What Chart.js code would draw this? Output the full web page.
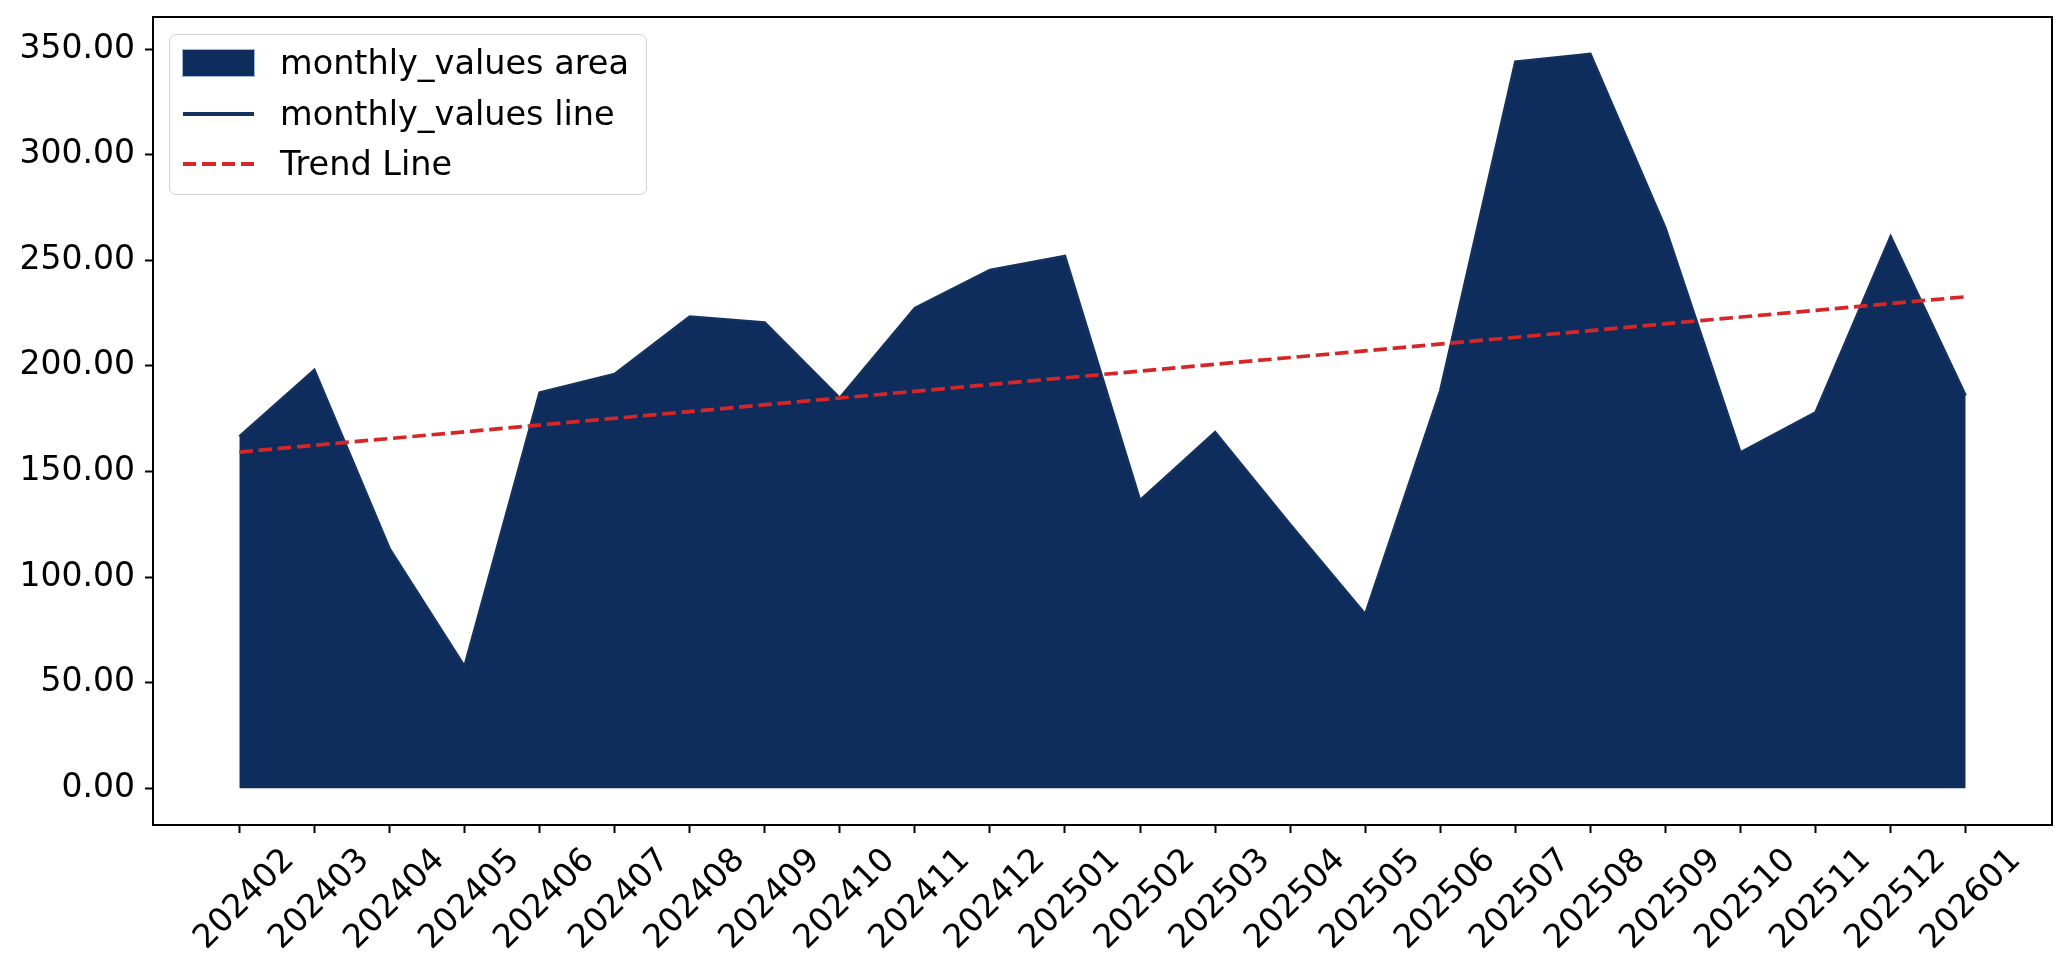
<!DOCTYPE html>
<html>
<head>
<meta charset="utf-8">
<script src="https://cdn.jsdelivr.net/npm/chart.js@4.4.1/dist/chart.umd.min.js"></script>
<style>
  html, body { margin: 0; padding: 0; background: #ffffff; }
  body { width: 2069px; height: 975px; position: relative; overflow: hidden; font-family: "DejaVu Sans", sans-serif; }
  #c { position: absolute; left: 0; top: 0; }
  #legend {
    position: absolute; left: 169px; top: 34px; width: 476px; height: 159px;
    border: 1.5px solid #d3d3d3; border-radius: 7px; background: rgba(255,255,255,0.8);
    box-sizing: content-box;
  }
  .row { position: absolute; left: 0; height: 40px; display: flex; align-items: center; }
  .sym { position: absolute; left: 13px; width: 71px; }
  .txt { position: absolute; left: 110px; font-size: 33.5px; line-height: 40px; white-space: nowrap; color: #000; }
</style>
</head>
<body>
<canvas id="c" width="2069" height="975"></canvas>
<div id="legend"></div>
<script>
// ---- data ----
const months = ['202402','202403','202404','202405','202406','202407','202408','202409','202410','202411','202412',
                '202501','202502','202503','202504','202505','202506','202507','202508','202509','202510','202511','202512',
                '202601'];
const monthlyValues = [166.6, 198.1, 113.6, 57.8, 187.4, 196.2, 223.4, 220.6, 184.9, 227.4, 245.4,
                       252.0, 136.4, 168.7, 125.0, 82.5, 188.3, 344.0, 347.8, 265.3, 159.0, 178.0, 261.4,
                       186.0];
const trendStart = 159.2;   // trend value at first month
const trendEnd = 232.7;     // trend value at last month
const yTickValues = [0, 50, 100, 150, 200, 250, 300, 350];
const seriesLabels = ['monthly_values area', 'monthly_values line', 'Trend Line'];

const NAVY = '#0e2d5c';
const NAVY_LINE = '#14325f';
const RED = '#d62728';

const points = months.map((m, i) => ({ x: i, y: monthlyValues[i] }));
const trendPoints = [{ x: 0, y: trendStart }, { x: months.length - 1, y: trendEnd }];

const xMargin = 0.05 * (months.length - 1);
const yMaxData = Math.max(...monthlyValues);
const yMargin = 0.05 * yMaxData;

Chart.defaults.font.family = '"DejaVu Sans", sans-serif';
Chart.defaults.font.size = 33;
Chart.defaults.color = '#000';

const framePlugin = {
  id: 'frame',
  afterDraw(chart) {
    const a = chart.chartArea, ctx = chart.ctx;
    ctx.save();
    ctx.strokeStyle = '#000';
    ctx.lineWidth = 2;
    ctx.strokeRect(a.left, a.top, a.right - a.left, a.bottom - a.top);
    ctx.restore();
  }
};

const chart = new Chart(document.getElementById('c'), {
  type: 'line',
  data: {
    datasets: [
      {
        label: seriesLabels[2],
        data: trendPoints,
        borderColor: RED,
        borderWidth: 3.7,
        borderDash: [13.5, 5.8],
        pointRadius: 0,
        fill: false,
        tension: 0
      },
      {
        label: seriesLabels[1],
        data: points,
        borderColor: NAVY_LINE,
        borderWidth: 2.5,
        pointRadius: 0,
        fill: false,
        tension: 0
      },
      {
        label: seriesLabels[0],
        data: points,
        borderColor: NAVY,
        borderWidth: 0,
        backgroundColor: NAVY,
        pointRadius: 0,
        fill: 'origin',
        tension: 0
      }
    ]
  },
  options: {
    responsive: false,
    animation: false,
    devicePixelRatio: 1,
    layout: { padding: { top: 17, right: 17, left: 0, bottom: 0 } },
    plugins: { legend: { display: false }, tooltip: { enabled: false } },
    scales: {
      x: {
        type: 'linear',
        min: -xMargin,
        max: months.length - 1 + xMargin,
        afterBuildTicks: (s) => { s.ticks = months.map((m, i) => ({ value: i })); },
        afterFit: (s) => { s.height = 150; s.paddingLeft = 0; s.paddingRight = 0; },
        grid: { display: true, drawOnChartArea: false, drawTicks: true, tickLength: 8, tickWidth: 2, tickColor: '#000' },
        border: { display: false },
        ticks: {
          autoSkip: false,
          maxRotation: 45,
          minRotation: 45,
          padding: 8,
          labelOffset: 50,
          color: '#000',
          font: { size: 33 },
          callback: (v) => months[v]
        }
      },
      y: {
        type: 'linear',
        min: -yMargin,
        max: yMaxData + yMargin,
        afterBuildTicks: (s) => { s.ticks = yTickValues.map(v => ({ value: v })); },
        afterFit: (s) => { s.width = 153; s.paddingTop = 0; s.paddingBottom = 0; },
        grid: { display: true, drawOnChartArea: false, drawTicks: true, tickLength: 8, tickWidth: 2, tickColor: '#000' },
        border: { display: false },
        ticks: {
          padding: 10,
          color: '#000',
          font: { size: 33 },
          callback: (v) => Number(v).toFixed(2)
        }
      }
    }
  },
  plugins: [framePlugin]
});

// ---- legend (real text), built from the dataset labels ----
const legend = document.getElementById('legend');
const rowCenters = [28, 79, 129];
const ds = chart.data.datasets;
const order = [2, 1, 0];
order.forEach((di, r) => {
  const d = ds[di];
  const row = document.createElement('div');
  row.className = 'row';
  row.style.top = (rowCenters[r] - 20) + 'px';
  row.style.width = '100%';
  const sym = document.createElement('div');
  sym.className = 'sym';
  if (d.fill === 'origin') {
    sym.style.height = '26px';
    sym.style.top = '7px';
    sym.style.background = d.backgroundColor;
    sym.style.boxShadow = '0 0 0 1px #9fb7d8';
  } else if (d.borderDash) {
    sym.style.height = '4px';
    sym.style.top = '18px';
    sym.style.background = 'repeating-linear-gradient(90deg, ' + d.borderColor + ' 0px, ' + d.borderColor + ' 13.5px, transparent 13.5px, transparent 19.3px)';
  } else {
    sym.style.height = '4px';
    sym.style.top = '18px';
    sym.style.background = d.borderColor;
  }
  const txt = document.createElement('div');
  txt.className = 'txt';
  txt.style.top = '0px';
  txt.textContent = d.label;
  row.appendChild(sym);
  row.appendChild(txt);
  legend.appendChild(row);
});
</script>
</body>
</html>
